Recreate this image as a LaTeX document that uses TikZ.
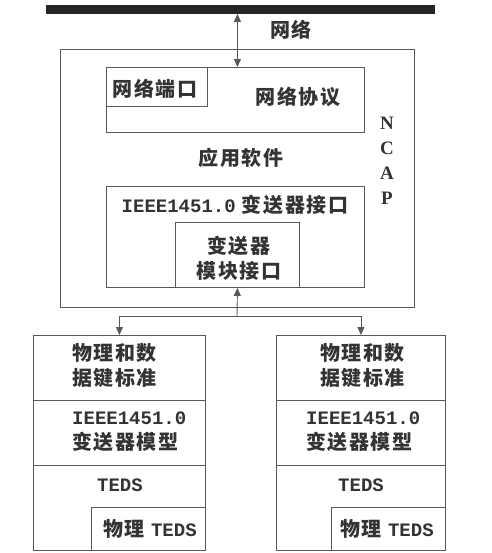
\documentclass[tikz,border=0pt]{standalone}
\usepackage{fontspec}
\setmainfont{Noto Sans CJK SC}[LetterSpace=8]
\newfontfamily\lt{Liberation Mono}
\newfontfamily\sr{Liberation Serif}
\usetikzlibrary{arrows.meta}
\definecolor{lc}{gray}{0.35}
\definecolor{tc}{gray}{0.2}
\newcommand\ltx[1]{{\lt\bfseries\fontsize{19}{25}\selectfont #1}}
\begin{document}
\begin{tikzpicture}[x=1pt,y=-1pt,
  box/.style={draw=lc, line width=0.9pt, inner sep=0pt, anchor=north west},
  lbl/.style={inner sep=0pt, text=tc, font=\bfseries\fontsize{20}{25}\selectfont, align=center},
  lbll/.style={lbl, anchor=west, align=left},
  tip/.tip={Triangle[length=8pt,width=7pt]},
  arr/.style={draw=lc, line width=0.9pt, -tip},
  darr/.style={draw=lc, line width=0.9pt, tip-tip},
]
\useasboundingbox[fill=white] (0,0) rectangle (491,553);
% network bar
\node[box, fill=black!85, draw=black!85, minimum width=388pt, minimum height=8pt] (bar) at (46,5) {};
% NCAP
\node[box, minimum width=354pt, minimum height=258pt] (ncap) at (60,49) {};
\node[box, minimum width=258pt, minimum height=65pt] (proto) at (106,67) {};
\node[box, minimum width=101pt, minimum height=39pt] (port) at (106,67) {};
\node[box, minimum width=258pt, minimum height=101pt] (tif) at (106,186) {};
\node[box, minimum width=124pt, minimum height=65pt] (mod) at (175,222) {};
% lower modules
\node[box, minimum width=172pt, minimum height=65pt] (L1) at (33,335) {};
\node[box, minimum width=172pt, minimum height=65pt] (L2) at (33,400) {};
\node[box, minimum width=172pt, minimum height=85pt] (L3) at (33,465) {};
\node[box, minimum width=114pt, minimum height=43pt] (Lp) at (91,507) {};
\node[box, minimum width=169pt, minimum height=65pt] (R1) at (276,335) {};
\node[box, minimum width=169pt, minimum height=65pt] (R2) at (276,400) {};
\node[box, minimum width=169pt, minimum height=85pt] (R3) at (276,465) {};
\node[box, minimum width=114pt, minimum height=43pt] (Rp) at (331,507) {};
% labels
\node[lbl] (tnet) at (291,30) {网络};
\node[lbl] (tport) at (155,89) {网络端口};
\node[lbl] (tproto) at (298,97) {网络协议};
\node[lbl] (tapp) at (241,158) {应用软件};
\node[lbl, font=\sr\bfseries\fontsize{19}{25}\selectfont] (tncap) at (387,161) {N\\C\\A\\P};
\node[lbl] (ttif) at (235,205) {\ltx{IEEE1451.0} 变送器接口};
\node[lbl] (tmod) at (239,258) {变送器\\模块接口};
\node[lbll] (tl1) at (72,366) {物理和数\\据键标准};
\node[lbll] (tl2) at (72,432) {\ltx{IEEE1451.0}\\变送器模型};
\node[lbl] (tl3) at (120,485) {\ltx{TEDS}};
\node[lbl] (tlp) at (150,529) {物理 \ltx{TEDS}};
\node[lbll] (tr1) at (320,366) {物理和数\\据键标准};
\node[lbll] (tr2) at (306,432) {\ltx{IEEE1451.0}\\变送器模型};
\node[lbl] (tr3) at (361,485) {\ltx{TEDS}};
\node[lbl] (trp) at (387,529) {物理 \ltx{TEDS}};
% connectors
\draw[darr] (bar.south -| mod.north) -- (proto.north -| mod.north);
\coordinate (j) at (237,316);
\draw[arr] (j) -- (mod.south);
\draw[arr] (j) -| (L1.north);
\draw[arr] (j) -| (R1.north);
\end{tikzpicture}
\end{document}
